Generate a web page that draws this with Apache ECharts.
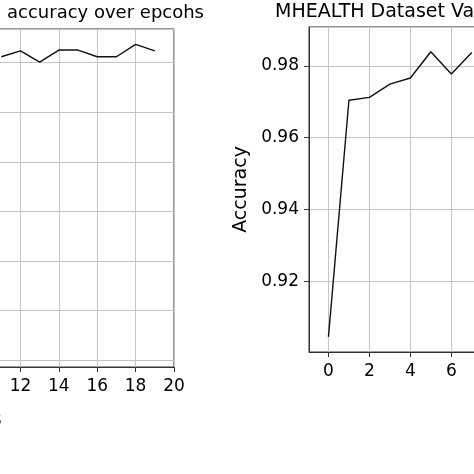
<!DOCTYPE html>
<html>
<head>
<meta charset="utf-8">
<script src="https://cdn.jsdelivr.net/npm/echarts@6/dist/echarts.min.js"></script>
<style>
html,body{margin:0;padding:0;background:#fff;}
#c{width:474px;height:474px;}
</style>
</head>
<body>
<div id="c"></div>
<script>
// Left panel (training accuracy, only epochs visible in the crop)
const leftEpochs = [11, 12, 13, 14, 15, 16, 17, 18, 19];
const leftAcc = [0.9824, 0.9848, 0.9802, 0.9851, 0.9851, 0.9824, 0.9824, 0.9874, 0.9848];
// Right panel (validation accuracy, visible epochs)
const rightEpochs = [0, 1, 2, 3, 4, 5, 6, 7];
const rightAcc = [0.9045, 0.9704, 0.9712, 0.9749, 0.9766, 0.9839, 0.9777, 0.9837];

const leftTitle = 'MHEALTH Dataset Training accuracy over epcohs';
const rightTitle = 'MHEALTH Dataset Validation accuracy over epcohs';
const xName = 'Epochs';
const yName = 'Accuracy';

const FONT = 'DejaVu Sans';
const axisCol = '#333';
const gridCol = '#c4c4c4';

function xAxisCfg(gi, min, max) {
  return {
    type: 'value', gridIndex: gi, min: min, max: max,
    minInterval: 2, maxInterval: 2,
    axisLine: {show: true, onZero: false, lineStyle: {color: axisCol, width: 1}},
    axisTick: {show: true, inside: false, length: 5, lineStyle: {color: axisCol}},
    splitLine: {show: true, lineStyle: {color: gridCol, width: 1}},
    axisLabel: {show: true, color: '#000', fontFamily: FONT, fontSize: 17, margin: 11,
      showMinLabel: false, showMaxLabel: max === 20, hideOverlap: false},
    name: xName, nameLocation: 'middle', nameGap: 44,
    nameTextStyle: {color: '#000', fontFamily: FONT, fontSize: 19, padding: [0, 10, 0, 0]}
  };
}
function yAxisCfg(gi, min, max) {
  return {
    type: 'value', gridIndex: gi, min: min, max: max,
    minInterval: 0.02, maxInterval: 0.02,
    axisLine: {show: true, onZero: false, lineStyle: {color: axisCol, width: 1}},
    axisTick: {show: true, inside: false, length: 5, lineStyle: {color: axisCol}},
    splitLine: {show: true, lineStyle: {color: gridCol, width: 1}},
    axisLabel: {show: true, color: '#000', fontFamily: FONT, fontSize: 17, margin: 10,
      showMinLabel: false, showMaxLabel: false,
      formatter: v => v.toFixed(2)},
    name: yName, nameLocation: 'middle', nameGap: 55, nameRotate: 90,
    nameTextStyle: {color: '#000', fontFamily: FONT, fontSize: 19}
  };
}

const chart = echarts.init(document.getElementById('c'), null, {renderer: 'canvas'});
chart.setOption({
  animation: false,
  backgroundColor: '#fff',
  graphic: [
    {type: 'text', style: {text: leftTitle, x: 204, y: 13, textAlign: 'right', textVerticalAlign: 'middle',
      font: '18px "DejaVu Sans"', fill: '#000'}},
    {type: 'text', style: {text: rightTitle, x: 275, y: 12, textAlign: 'left', textVerticalAlign: 'middle',
      font: '19px "DejaVu Sans"', fill: '#000'}}
  ],
  grid: [
    {left: -229, top: 29, width: 403, height: 338, show: true, borderColor: axisCol, borderWidth: 1,
      backgroundColor: 'transparent', outerBoundsMode: 'none', containLabel: false},
    {left: 309, top: 27, width: 428, height: 325, show: true, borderColor: axisCol, borderWidth: 1,
      backgroundColor: 'transparent', outerBoundsMode: 'none', containLabel: false}
  ],
  xAxis: [xAxisCfg(0, -1, 20), xAxisCfg(1, -0.95, 19.95)],
  yAxis: [yAxisCfg(0, 0.8572, 0.9936), yAxisCfg(1, 0.9003, 0.9908)],
  series: [
    {type: 'line', xAxisIndex: 0, yAxisIndex: 0, showSymbol: false, symbol: 'none',
      lineStyle: {color: '#111', width: 1.4},
      data: leftEpochs.map((e, i) => [e, leftAcc[i]])},
    {type: 'line', xAxisIndex: 1, yAxisIndex: 1, showSymbol: false, symbol: 'none',
      lineStyle: {color: '#111', width: 1.4},
      data: rightEpochs.map((e, i) => [e, rightAcc[i]])}
  ]
});
</script>
</body>
</html>
